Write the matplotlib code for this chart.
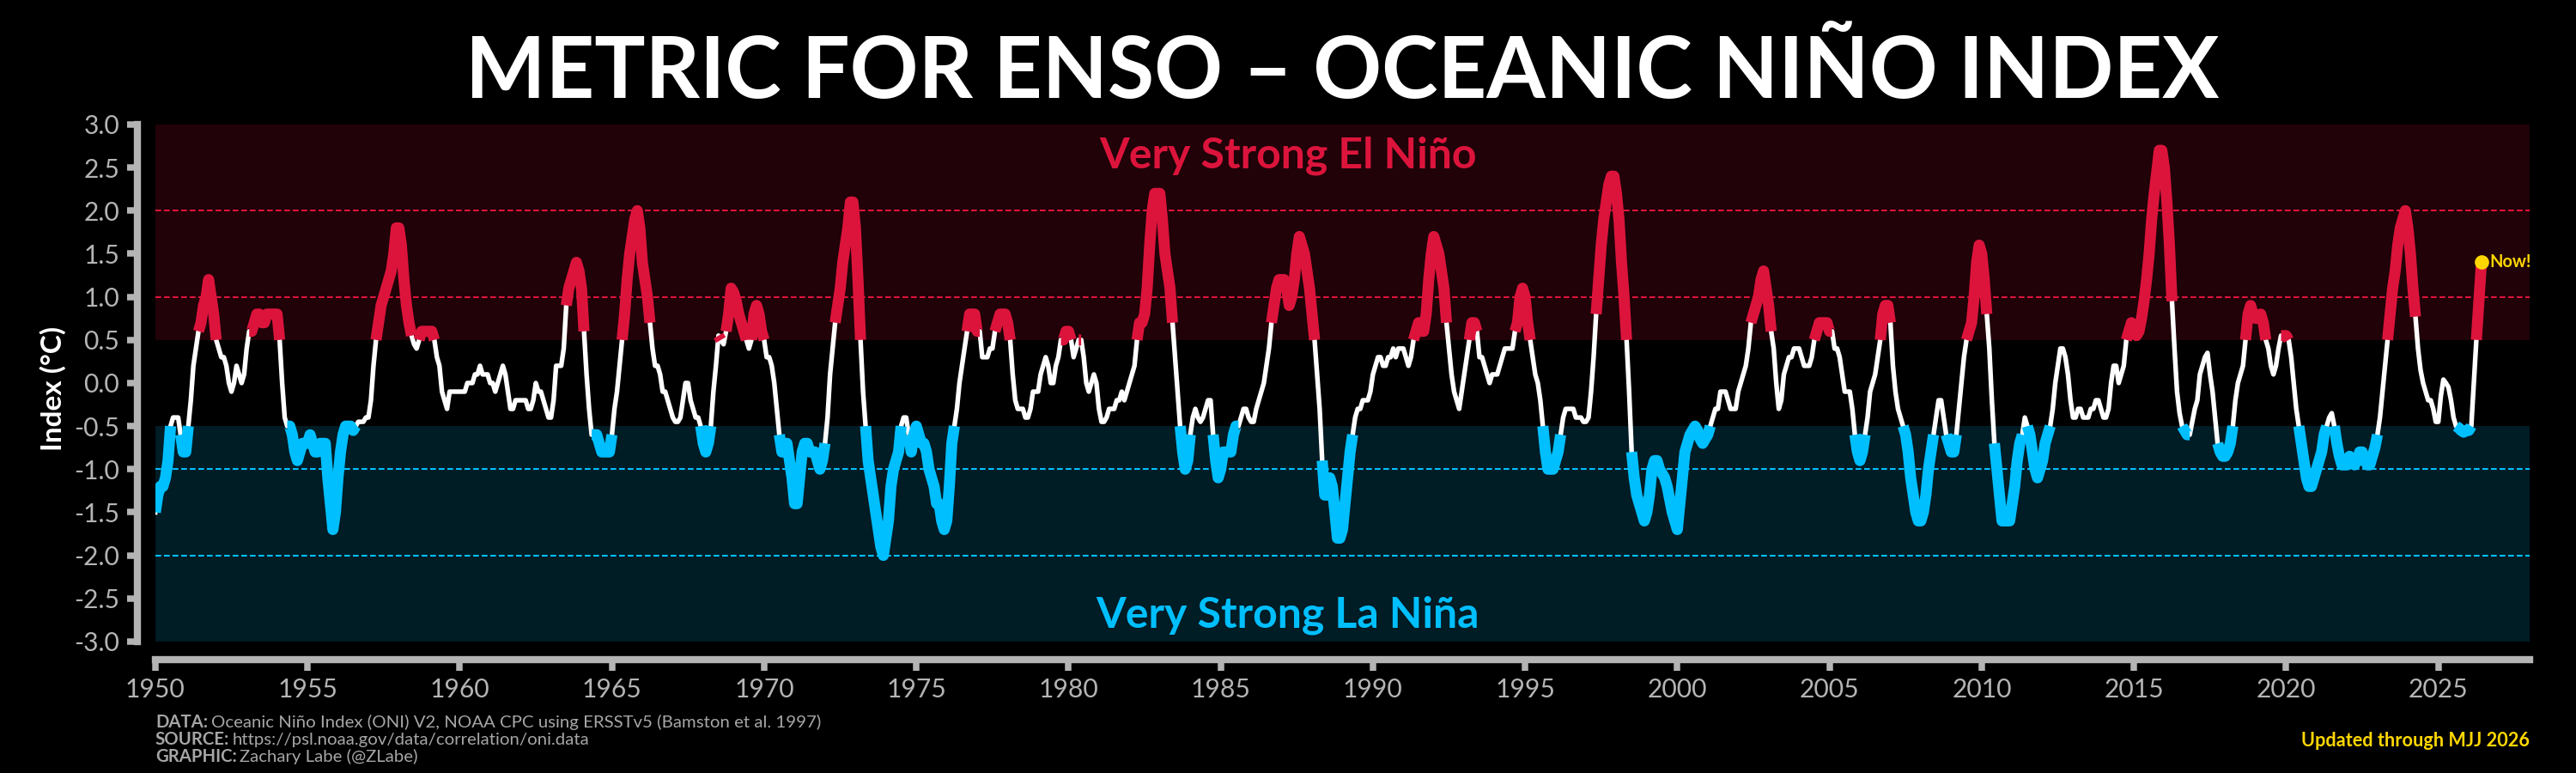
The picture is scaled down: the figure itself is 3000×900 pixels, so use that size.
import matplotlib.pyplot as plt
import numpy as np

plt.rcParams['font.family'] = ['Lato', 'DejaVu Sans']
plt.rcParams['axes.unicode_minus'] = False

# ONI, one value per running 3-month season (DJF, JFM, ... NDJ)
oni_1950s = [
    -1.5, -1.3, -1.2, -1.2, -1.1, -0.9, -0.5, -0.4, -0.4, -0.4, -0.6, -0.8,
    -0.8, -0.5, -0.2, 0.2, 0.4, 0.6, 0.7, 0.9, 1.0, 1.2, 1.0, 0.8,
    0.5, 0.4, 0.3, 0.3, 0.2, 0.0, -0.1, 0.0, 0.2, 0.1, 0.0, 0.1,
    0.4, 0.6, 0.6, 0.7, 0.8, 0.8, 0.7, 0.7, 0.8, 0.8, 0.8, 0.8,
    0.8, 0.5, 0.0, -0.4, -0.5, -0.5, -0.6, -0.8, -0.9, -0.8, -0.7, -0.7,
    -0.7, -0.6, -0.7, -0.8, -0.8, -0.7, -0.7, -0.7, -1.1, -1.4, -1.7, -1.5,
    -1.1, -0.8, -0.6, -0.5, -0.5, -0.5, -0.55, -0.5, -0.45, -0.45, -0.45, -0.4,
    -0.4, -0.2, 0.2, 0.5, 0.7, 0.9, 1.0, 1.1, 1.2, 1.3, 1.5, 1.8,
    1.8, 1.6, 1.2, 0.9, 0.7, 0.55, 0.45, 0.4, 0.5, 0.6, 0.6, 0.6,
    0.6, 0.6, 0.5, 0.3, 0.2, -0.1, -0.2, -0.3, -0.1, -0.1, -0.1, -0.1,
]
oni_1960s = [
    -0.1, -0.1, -0.1, 0.0, 0.0, 0.0, 0.1, 0.1, 0.2, 0.1, 0.1, 0.1,
    0.0, 0.0, -0.1, 0.0, 0.1, 0.2, 0.1, -0.1, -0.3, -0.3, -0.2, -0.2,
    -0.2, -0.2, -0.2, -0.3, -0.3, -0.2, 0.0, -0.1, -0.1, -0.2, -0.3, -0.4,
    -0.4, -0.2, 0.2, 0.2, 0.2, 0.4, 0.9, 1.1, 1.2, 1.3, 1.4, 1.3,
    1.1, 0.6, 0.1, -0.3, -0.6, -0.6, -0.6, -0.7, -0.8, -0.8, -0.8, -0.8,
    -0.6, -0.3, -0.1, 0.2, 0.5, 0.8, 1.2, 1.5, 1.7, 1.9, 2.0, 1.8,
    1.4, 1.2, 1.0, 0.7, 0.4, 0.2, 0.2, 0.1, -0.1, -0.1, -0.2, -0.3,
    -0.4, -0.45, -0.45, -0.4, -0.2, 0.0, 0.0, -0.2, -0.3, -0.4, -0.4, -0.5,
    -0.7, -0.8, -0.7, -0.5, -0.1, 0.2, 0.55, 0.5, 0.45, 0.6, 0.8, 1.1,
    1.05, 0.95, 0.8, 0.7, 0.6, 0.5, 0.4, 0.5, 0.8, 0.9, 0.8, 0.6,
]
oni_1970s = [
    0.5, 0.3, 0.3, 0.2, 0.0, -0.3, -0.6, -0.8, -0.8, -0.7, -0.9, -1.1,
    -1.4, -1.4, -1.1, -0.8, -0.7, -0.7, -0.8, -0.8, -0.8, -0.9, -1.0, -0.9,
    -0.7, -0.4, 0.1, 0.4, 0.7, 0.9, 1.1, 1.4, 1.6, 1.8, 2.1, 2.1,
    1.8, 1.2, 0.5, -0.1, -0.5, -0.9, -1.1, -1.3, -1.5, -1.7, -1.9, -2.0,
    -1.8, -1.6, -1.2, -1.0, -0.9, -0.8, -0.5, -0.4, -0.4, -0.6, -0.8, -0.6,
    -0.5, -0.6, -0.7, -0.7, -0.8, -1.0, -1.1, -1.2, -1.4, -1.4, -1.6, -1.7,
    -1.6, -1.2, -0.7, -0.5, -0.3, 0.0, 0.2, 0.4, 0.6, 0.8, 0.8, 0.8,
    0.6, 0.6, 0.3, 0.3, 0.3, 0.4, 0.4, 0.6, 0.7, 0.8, 0.8, 0.8,
    0.7, 0.5, 0.1, -0.2, -0.3, -0.3, -0.3, -0.4, -0.4, -0.3, -0.1, -0.1,
    -0.1, 0.1, 0.2, 0.3, 0.2, 0.0, 0.0, 0.2, 0.3, 0.5, 0.5, 0.6,
]
oni_1980s = [
    0.6, 0.5, 0.3, 0.4, 0.5, 0.5, 0.3, 0.0, -0.1, 0.0, 0.1, 0.0,
    -0.3, -0.45, -0.45, -0.4, -0.3, -0.3, -0.3, -0.2, -0.2, -0.1, -0.2, -0.1,
    0.0, 0.1, 0.2, 0.5, 0.7, 0.7, 0.8, 1.1, 1.6, 2.0, 2.2, 2.2,
    2.2, 1.9, 1.5, 1.3, 1.1, 0.7, 0.3, -0.1, -0.5, -0.8, -1.0, -0.9,
    -0.6, -0.4, -0.3, -0.4, -0.45, -0.4, -0.3, -0.2, -0.2, -0.6, -0.9, -1.1,
    -1.0, -0.8, -0.8, -0.8, -0.8, -0.6, -0.5, -0.5, -0.4, -0.3, -0.3, -0.4,
    -0.45, -0.45, -0.3, -0.2, -0.1, 0.0, 0.2, 0.4, 0.7, 0.9, 1.1, 1.2,
    1.2, 1.2, 1.1, 0.9, 1.0, 1.2, 1.5, 1.7, 1.6, 1.5, 1.3, 1.1,
    0.8, 0.5, 0.1, -0.3, -0.9, -1.3, -1.3, -1.1, -1.2, -1.5, -1.8, -1.8,
    -1.7, -1.4, -1.1, -0.8, -0.6, -0.4, -0.3, -0.3, -0.2, -0.2, -0.2, -0.1,
]
oni_1990s = [
    0.1, 0.2, 0.3, 0.3, 0.2, 0.2, 0.3, 0.3, 0.4, 0.3, 0.4, 0.4,
    0.4, 0.3, 0.2, 0.3, 0.5, 0.6, 0.7, 0.6, 0.6, 0.8, 1.2, 1.5,
    1.7, 1.6, 1.5, 1.3, 1.1, 0.7, 0.4, 0.1, -0.1, -0.2, -0.3, -0.1,
    0.1, 0.3, 0.5, 0.7, 0.7, 0.6, 0.3, 0.3, 0.2, 0.1, 0.0, 0.1,
    0.1, 0.1, 0.2, 0.3, 0.4, 0.4, 0.4, 0.4, 0.6, 0.7, 1.0, 1.1,
    1.0, 0.7, 0.5, 0.3, 0.1, 0.0, -0.2, -0.5, -0.8, -1.0, -1.0, -1.0,
    -0.9, -0.8, -0.6, -0.4, -0.3, -0.3, -0.3, -0.3, -0.4, -0.4, -0.4, -0.45,
    -0.45, -0.4, -0.1, 0.3, 0.8, 1.2, 1.6, 1.9, 2.1, 2.3, 2.4, 2.4,
    2.2, 1.9, 1.4, 1.0, 0.5, -0.1, -0.8, -1.1, -1.3, -1.4, -1.5, -1.6,
    -1.5, -1.3, -1.0, -0.9, -0.9, -1.0, -1.05, -1.1, -1.2, -1.35, -1.5, -1.6,
]
oni_2000s = [
    -1.7, -1.4, -1.1, -0.8, -0.7, -0.6, -0.55, -0.5, -0.55, -0.65, -0.7, -0.65,
    -0.6, -0.5, -0.4, -0.3, -0.3, -0.1, -0.1, -0.1, -0.2, -0.3, -0.3, -0.3,
    -0.1, 0.0, 0.1, 0.2, 0.4, 0.7, 0.8, 0.9, 1.0, 1.2, 1.3, 1.1,
    0.9, 0.6, 0.4, 0.0, -0.3, -0.2, 0.1, 0.2, 0.3, 0.3, 0.4, 0.4,
    0.4, 0.3, 0.2, 0.2, 0.2, 0.3, 0.5, 0.6, 0.7, 0.7, 0.7, 0.7,
    0.6, 0.6, 0.4, 0.4, 0.3, 0.1, -0.1, -0.1, -0.1, -0.3, -0.6, -0.8,
    -0.9, -0.8, -0.6, -0.4, -0.1, 0.0, 0.1, 0.3, 0.5, 0.8, 0.9, 0.9,
    0.7, 0.2, -0.1, -0.3, -0.4, -0.5, -0.6, -0.8, -1.1, -1.3, -1.5, -1.6,
    -1.6, -1.5, -1.3, -1.0, -0.8, -0.6, -0.4, -0.2, -0.2, -0.4, -0.6, -0.7,
    -0.8, -0.8, -0.6, -0.3, 0.0, 0.3, 0.5, 0.6, 0.7, 1.0, 1.4, 1.6,
]
oni_2010s = [
    1.5, 1.2, 0.8, 0.4, -0.2, -0.7, -1.0, -1.3, -1.6, -1.6, -1.6, -1.6,
    -1.4, -1.2, -0.9, -0.7, -0.6, -0.4, -0.5, -0.6, -0.8, -1.0, -1.1, -1.0,
    -0.9, -0.7, -0.6, -0.5, -0.3, 0.0, 0.2, 0.4, 0.4, 0.3, 0.1, -0.2,
    -0.4, -0.4, -0.3, -0.3, -0.4, -0.4, -0.4, -0.3, -0.3, -0.2, -0.2, -0.3,
    -0.4, -0.4, -0.3, 0.0, 0.2, 0.2, 0.0, 0.1, 0.2, 0.5, 0.6, 0.7,
    0.6, 0.55, 0.6, 0.75, 0.95, 1.2, 1.5, 1.9, 2.2, 2.45, 2.7, 2.7,
    2.5, 2.1, 1.6, 0.95, 0.4, -0.1, -0.35, -0.5, -0.55, -0.6, -0.6, -0.45,
    -0.3, -0.2, 0.1, 0.2, 0.3, 0.35, 0.1, -0.1, -0.4, -0.7, -0.8, -0.85,
    -0.85, -0.8, -0.7, -0.5, -0.2, 0.0, 0.1, 0.2, 0.5, 0.8, 0.9, 0.8,
    0.75, 0.75, 0.8, 0.7, 0.5, 0.4, 0.2, 0.1, 0.2, 0.4, 0.55, 0.55,
]
oni_2020s = [
    0.55, 0.5, 0.3, 0.0, -0.3, -0.5, -0.7, -0.9, -1.1, -1.2, -1.2, -1.1,
    -1.0, -0.9, -0.8, -0.6, -0.5, -0.4, -0.35, -0.5, -0.7, -0.85, -0.95, -0.95,
    -0.95, -0.85, -0.9, -0.95, -0.9, -0.8, -0.8, -0.9, -0.95, -0.95, -0.85, -0.75,
    -0.6, -0.4, -0.1, 0.2, 0.5, 0.8, 1.1, 1.3, 1.6, 1.8, 1.9, 2.0,
    1.8, 1.5, 1.1, 0.77, 0.4, 0.15, 0.0, -0.1, -0.2, -0.2, -0.3, -0.45,
    -0.45, -0.15, 0.04, 0.0, -0.05, -0.2, -0.4, -0.5, -0.52, -0.55, -0.57, -0.55,
    -0.55, -0.5, 0.0, 0.5, 0.95, 1.4,
]

yticks = np.arange(-3.0, 3.01, 0.5)
xticks = np.arange(1950, 2026, 5)

oni = np.array(oni_1950s + oni_1960s + oni_1970s + oni_1980s +
               oni_1990s + oni_2000s + oni_2010s + oni_2020s)
years = 1950 + np.arange(len(oni)) / 12.

grey = '#b4b4b4'

fig = plt.figure(figsize=(10, 3), dpi=300, facecolor='black')
ax = fig.add_axes([0.0603, 0.17, 0.9217, 0.669])
ax.set_facecolor('black')

# shaded ENSO zones and dashed strength lines
ax.axhspan(0.5, 3.0, color='crimson', alpha=0.15, lw=0, zorder=0)
ax.axhspan(-3.0, -0.5, color='deepskyblue', alpha=0.15, lw=0, zorder=0)
for lev in [1, 2]:
    ax.axhline(lev, color='crimson', lw=0.5, ls='--', dashes=(3.2, 1.6), zorder=1)
    ax.axhline(-lev, color='deepskyblue', lw=0.5, ls='--', dashes=(3.2, 1.6), zorder=1)

# index line, thick colours above/below +-0.5
pos = np.where(oni >= 0.5, oni, np.nan)
neg = np.where(oni <= -0.5, oni, np.nan)
ax.plot(years, oni, color='white', lw=1.3, solid_joinstyle='round', zorder=3)
ax.plot(years, pos, color='crimson', lw=3.1, solid_capstyle='butt',
        solid_joinstyle='round', zorder=4)
ax.plot(years, neg, color='deepskyblue', lw=3.1, solid_capstyle='butt',
        solid_joinstyle='round', zorder=4)

ax.plot(years[-1], oni[-1], 'o', color='gold', ms=4, mec='none', zorder=5, clip_on=False)
ax.annotate('Now!', xy=(years[-1], oni[-1]), xytext=(2.3, 0), textcoords='offset points',
            ha='left', va='center', color='gold', fontsize=4.8, weight='bold')

ax.text(1987.2, 2.5, 'Very Strong El Niño', color='crimson', fontsize=12,
        weight='bold', ha='center', va='baseline', zorder=2)
ax.text(1987.2, -2.84, 'Very Strong La Niña', color='deepskyblue', fontsize=12,
        weight='bold', ha='center', va='baseline', zorder=2)

# axes styling
ax.set_xlim(1950, 2028)
ax.set_ylim(-3, 3)
for s in ['top', 'right']:
    ax.spines[s].set_visible(False)
for s in ['left', 'bottom']:
    ax.spines[s].set_position(('outward', 5))
    ax.spines[s].set_color(grey)
    ax.spines[s].set_linewidth(2)
ax.set_xticks(xticks)
ax.set_xticklabels([str(x) for x in xticks])
ax.set_yticks(yticks)
ax.set_yticklabels(['%.1f' % y for y in yticks])
ax.tick_params(axis='both', direction='out', length=3, width=1.8, color=grey,
               labelcolor=grey, labelsize=7.2, pad=2)

fig.text(0.0205, 0.497, 'Index (°C)', rotation=90, ha='center', va='center',
         color='white', fontsize=8, weight='bold')

fig.text(0.521, 0.905, 'METRIC FOR ENSO – OCEANIC NIÑO INDEX', ha='center', va='center',
         color='white', fontsize=23.7, weight='bold')

# footer
renderer = fig.canvas.get_renderer()
footer = [('DATA:', 'Oceanic Niño Index (ONI) V2, NOAA CPC using ERSSTv5 (Bamston et al. 1997)', 0.0656),
          ('SOURCE:', 'https://psl.noaa.gov/data/correlation/oni.data', 0.0433),
          ('GRAPHIC:', 'Zachary Labe (@ZLabe)', 0.0211)]
for head, body, yy in footer:
    t = fig.text(0.0603, yy, head, ha='left', va='center', color='#a6a6a6',
                 fontsize=4.9, weight='bold')
    bb = t.get_window_extent(renderer=renderer)
    fig.text(bb.x1 / fig.bbox.width + 0.0012, yy, body, ha='left', va='center',
             color='#a6a6a6', fontsize=4.9)

fig.text(0.982, 0.042, 'Updated through MJJ 2026', ha='right', va='center',
         color='gold', fontsize=5.2, weight='bold')

fig.savefig('out.png', dpi=300, facecolor='black')
